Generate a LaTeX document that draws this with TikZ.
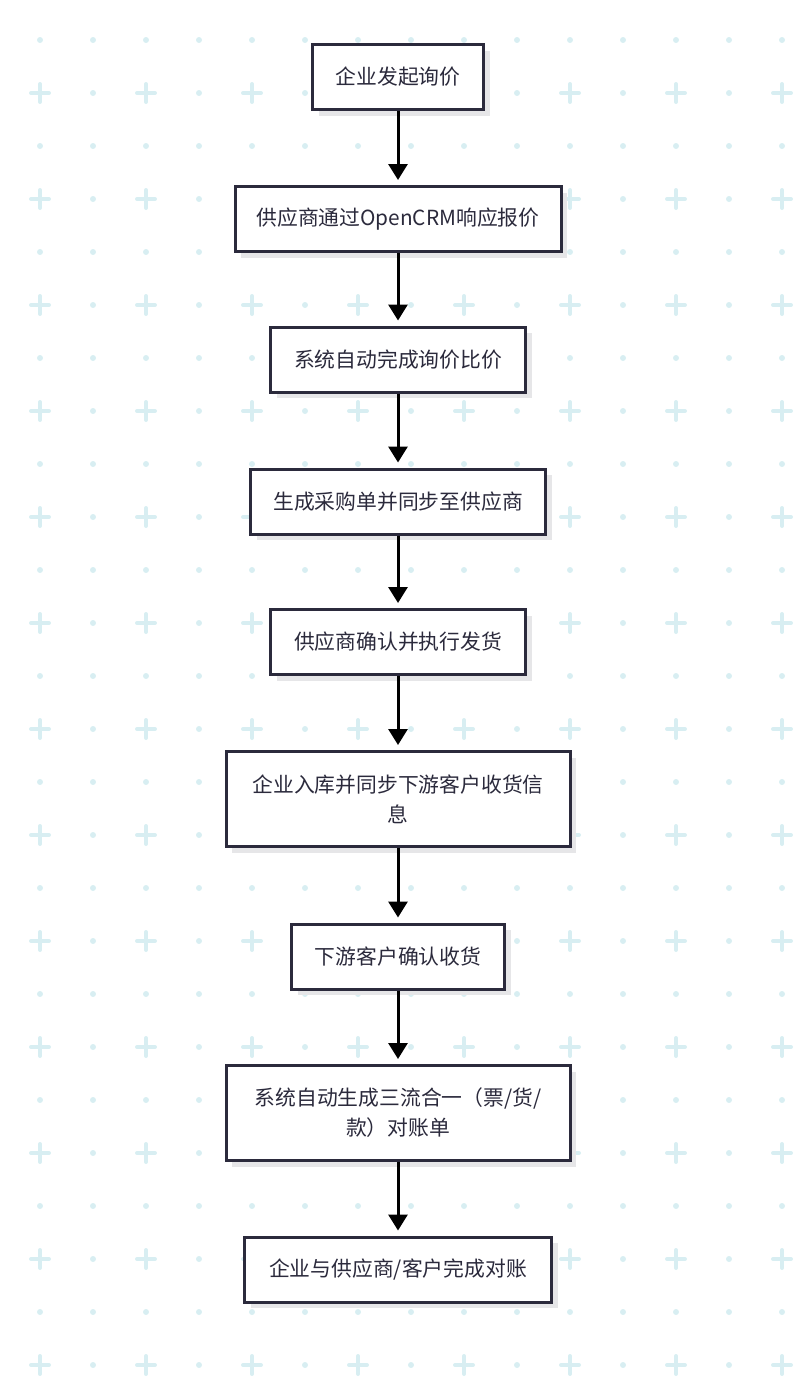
\documentclass[tikz,border=0pt]{standalone}
\usepackage{fontspec}
\setmainfont{Noto Sans CJK SC}
\usetikzlibrary{arrows.meta, shadows}
\definecolor{cink}{HTML}{2B2A3C}
\definecolor{cdot}{HTML}{D8EEF2}
\definecolor{cshade}{HTML}{E6E6E8}
\tikzset{
  every picture/.style={x=1pt, y=-1pt},
  box/.style={draw=cink, fill=white, line width=3pt, align=center, text=cink,
    font=\fontsize{20.8}{30}\selectfont, inner sep=0pt, minimum height=65pt,
    drop shadow={shadow xshift=6pt, shadow yshift=-6pt, fill=cshade, opacity=1}},
  arrow/.style={-{Triangle[length=16pt, width=19pt]}, draw=black, line width=3pt, shorten >=5pt},
  bgdot/.style={fill=cdot},
  bgplus/.style={draw=cdot, line width=4pt, line cap=round},
}

\begin{document}
\begin{tikzpicture}
  \useasboundingbox (0,0) rectangle (804,1390);
  % background grid
  \foreach \j in {0,2,...,24}
    \foreach \i in {0,...,14}
      \fill[bgdot] ({40+53*\i},{40+53*\j}) circle[radius=3pt];
  \foreach \j in {1,3,...,25} {
    \foreach \i in {1,3,...,13}
      \fill[bgdot] ({40+53*\i},{40+53*\j}) circle[radius=3pt];
    \foreach \i in {0,2,...,14}
      \draw[bgplus] ({31+53*\i},{40+53*\j}) -- ({49+53*\i},{40+53*\j})
                    ({40+53*\i},{31+53*\j}) -- ({40+53*\i},{49+53*\j});
  }
  % steps
  \node[box, minimum width=171pt] (s1) at (398,77) {企业发起询价};
  \node[box, minimum width=326pt] (s2) at (398,219) {供应商通过OpenCRM响应报价};
  \node[box, minimum width=255pt] (s3) at (398,359.5) {系统自动完成询价比价};
  \node[box, minimum width=295pt] (s4) at (398,501.5) {生成采购单并同步至供应商};
  \node[box, minimum width=255pt] (s5) at (398,642) {供应商确认并执行发货};
  \node[box, minimum width=344pt, minimum height=95pt] (s6) at (398,799) {企业入库并同步下游客户收货信\\息};
  \node[box, minimum width=213pt] (s7) at (398,956.5) {下游客户确认收货};
  \node[box, minimum width=344pt, minimum height=95pt] (s8) at (398,1113) {系统自动生成三流合一（票/货/\\款）对账单};
  \node[box, minimum width=307pt] (s9) at (398,1269.5) {企业与供应商/客户完成对账};
  \foreach \a/\b in {s1/s2, s2/s3, s3/s4, s4/s5, s5/s6, s6/s7, s7/s8, s8/s9}
    \draw[arrow] (\a) -- (\b);
\end{tikzpicture}
\end{document}
